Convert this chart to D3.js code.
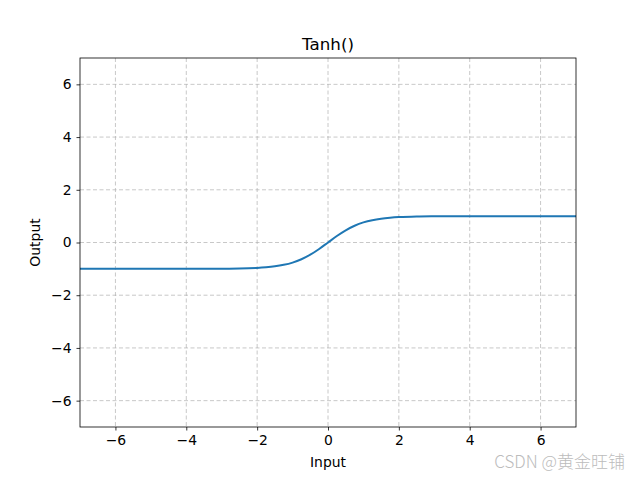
<!DOCTYPE html>
<html>
<head>
<meta charset="utf-8">
<script src="https://cdn.jsdelivr.net/npm/d3@7"></script>
<style>
  body { margin: 0; background: #fff; }
  text { font-family: "DejaVu Sans", sans-serif; }
</style>
</head>
<body>
<div id="chart-area"></div>
<script>
// curve points
let inputs = [-7, -6, -5, -4, -3.5, -3, -2.5, -2, -1.75, -1.5, -1.25, -1, -0.75, -0.5, -0.25, 0,
  0.25, 0.5, 0.75, 1, 1.25, 1.5, 1.75, 2, 2.5, 3, 3.5, 4, 5, 6, 7];
let outputs = [-1, -1, -1, -0.999, -0.998, -0.995, -0.987, -0.964, -0.941, -0.905, -0.848, -0.762, -0.635, -0.462, -0.245, 0,
  0.245, 0.462, 0.635, 0.762, 0.848, 0.905, 0.941, 0.964, 0.987, 0.995, 0.998, 0.999, 1, 1, 1];
let xTicks = [-6, -4, -2, 0, 2, 4, 6];
let yTicks = [-6, -4, -2, 0, 2, 4, 6];

let margin = { left: 80, right: 64, top: 58, bottom: 53 };
let width = 640 - margin.left - margin.right;
let height = 480 - margin.top - margin.bottom;

let svg = d3.select("#chart-area")
  .append("svg")
  .attr("width", 640)
  .attr("height", 480);

let g = svg.append("g")
  .attr("transform", "translate(" + margin.left + "," + margin.top + ")");

let x = d3.scaleLinear().domain([-7, 7]).range([0, width]);
let y = d3.scaleLinear().domain([-7, 7]).range([height, 0]);

// grid
g.selectAll(".vgrid")
  .data(xTicks)
  .enter().append("line")
  .attr("x1", d => x(d)).attr("x2", d => x(d))
  .attr("y1", 0).attr("y2", height)
  .attr("stroke", "#b0b0b0").attr("stroke-opacity", 0.7)
  .attr("stroke-dasharray", "4,2.5");

g.selectAll(".hgrid")
  .data(yTicks)
  .enter().append("line")
  .attr("y1", d => y(d)).attr("y2", d => y(d))
  .attr("x1", 0).attr("x2", width)
  .attr("stroke", "#b0b0b0").attr("stroke-opacity", 0.7)
  .attr("stroke-dasharray", "4,2.5");

let fmt = d => (d < 0 ? "\u2212" + Math.abs(d) : "" + d);

let xAxis = g.append("g")
  .attr("transform", "translate(0," + height + ")")
  .call(d3.axisBottom(x).tickValues(xTicks).tickFormat(fmt).tickSize(3.5).tickPadding(5));
let yAxis = g.append("g")
  .call(d3.axisLeft(y).tickValues(yTicks).tickFormat(fmt).tickSize(3.5).tickPadding(5));

[xAxis, yAxis].forEach(a => {
  a.select(".domain").remove();
  a.selectAll("text").attr("font-size", "13.9px").attr("fill", "#000")
    .attr("font-family", "DejaVu Sans");
  a.selectAll("line").attr("stroke", "#000").attr("stroke-width", 0.8);
});

// line
let line = d3.line()
  .x((d, i) => x(inputs[i]))
  .y(d => y(d))
  .curve(d3.curveCatmullRom);

g.append("path")
  .datum(outputs)
  .attr("d", line)
  .attr("fill", "none")
  .attr("stroke", "#1f77b4")
  .attr("stroke-width", 2);

// frame
g.append("rect")
  .attr("width", width).attr("height", height)
  .attr("fill", "none").attr("stroke", "#000").attr("stroke-width", 0.8);

// labels
g.append("text")
  .attr("x", width / 2).attr("y", -8)
  .attr("text-anchor", "middle").attr("font-size", "16.7px")
  .text("Tanh()");

g.append("text")
  .attr("x", width / 2).attr("y", height + 40)
  .attr("text-anchor", "middle").attr("font-size", "13.9px")
  .text("Input");

g.append("text")
  .attr("x", -height / 2).attr("y", -40)
  .attr("text-anchor", "middle").attr("font-size", "13.9px")
  .attr("transform", "rotate(-90)")
  .text("Output");

// watermark
svg.append("text")
  .attr("x", 625).attr("y", 468)
  .attr("text-anchor", "end")
  .attr("font-size", "17px")
  .attr("fill", "#bcbcbc")
  .style("font-family", "'Noto Sans CJK SC', sans-serif")
  .style("font-weight", 300)
  .text("CSDN @黄金旺铺");
</script>
</body>
</html>
